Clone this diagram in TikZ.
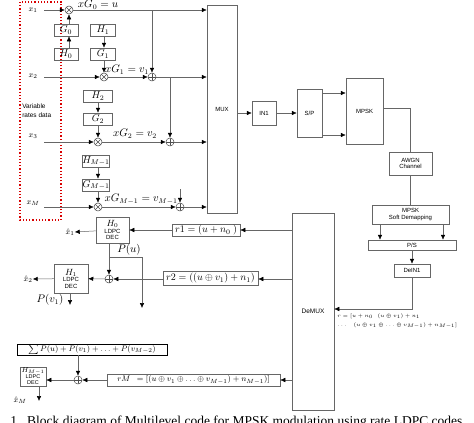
\documentclass[tikz,border=0pt]{standalone}
\usepackage{fontspec}
\setsansfont{Liberation Sans}
\setmainfont{Liberation Serif}
\usetikzlibrary{arrows.meta}
\begin{document}
\begin{tikzpicture}[x=1pt,y=-1pt,
  line width=0.5pt,
  ln/.style={draw=black!60},
  ar/.style={draw=black!60,-{Latex[length=5pt,width=4.5pt,black]}},
  blk/.style={draw=black!60,inner sep=0pt,align=center,font=\sffamily\fontsize{6}{6.5}\selectfont},
  mbox/.style={draw=black!60,inner sep=0pt,font=\fontsize{10}{11}\selectfont},
  lbl/.style={inner sep=0pt,font=\fontsize{10.5}{11}\selectfont},
  slbl/.style={inner sep=0pt,font=\fontsize{8}{9}\selectfont},
  mul/.style={circle,draw=black!70,inner sep=0pt,minimum size=8pt,
    path picture={\draw[black!70] (path picture bounding box.north west)--(path picture bounding box.south east)
      (path picture bounding box.north east)--(path picture bounding box.south west);}},
  add/.style={circle,draw=black!70,inner sep=0pt,minimum size=8pt,
    path picture={\draw[black!70] (path picture bounding box.north)--(path picture bounding box.south)
      (path picture bounding box.east)--(path picture bounding box.west);}}
]
\clip (0,0) rectangle (474,423);
\useasboundingbox (0,0) rectangle (474,423);

% red dotted region
\draw[red!85!black,line width=1.2pt,dotted] (20,2) rectangle (61,220);
\node[inner sep=0pt,align=left,anchor=west,font=\sffamily\fontsize{6.5}{9}\selectfont] (vrd) at (22,111) {Variable\\rates data};

% ---------------- transmitter ----------------
\node[minimum width=30,minimum height=208,draw=black!60,inner sep=0pt,font=\sffamily\fontsize{6}{7}\selectfont] (MUX) at (222,109) {MUX};

% branch 0
\node[slbl] (x1) at (33,10) {$x_1$};
\coordinate (x1s) at (44,10);
\node[mul] (m0) at (69,10) {};
\node[mbox,minimum width=24,minimum height=12] (G0) at (66,30) {$G_0$};
\node[mbox,minimum width=24,minimum height=12] (H0) at (66,54) {$H_0$};
\draw[ar] (x1s) -- (m0);
\draw[ar] (H0.north -| m0) -- (G0.south -| m0);
\draw[ar] (G0.north -| m0) -- (m0);
\node[lbl] (l0) at (98,5) {$xG_0=u$};
\draw[ar] (m0) -- (m0 -| MUX.west);

% branch 1
\node[slbl] (x2) at (33,76) {$x_2$};
\coordinate (x2s) at (44,77);
\node[mul] (m1) at (104,77) {};
\node[add] (a1) at (152,77) {};
\node[mbox,minimum width=25,minimum height=12] (H1) at (103,30) {$H_1$};
\node[mbox,minimum width=25,minimum height=12] (G1) at (103,54) {$G_1$};
\draw[ar] (H1.south -| m1) -- (G1.north -| m1);
\draw[ar] (G1.south -| m1) -- (m1);
\draw[ar] (x2s) -- (m1);
\draw[ar] (m1) -- (a1);
\draw[ar] (a1 |- m0) -- (a1);
\draw[ar] (a1) -- (a1 -| MUX.west);
\node[lbl] (l1) at (127,70) {$xG_1=v_1$};

% branch 2
\node[slbl] (x3) at (33,136) {$x_3$};
\coordinate (x3s) at (44,142);
\node[mul] (m2) at (98,142) {};
\node[add] (a2) at (170,142) {};
\node[mbox,minimum width=29,minimum height=12] (H2) at (98,96) {$H_2$};
\node[mbox,minimum width=29,minimum height=12] (G2) at (98,119) {$G_2$};
\draw[ar] (H2) -- (G2);
\draw[ar] (G2) -- (m2);
\draw[ar] (x3s) -- (m2);
\draw[ar] (m2) -- (a2);
\draw[ar] (a2 |- a1) -- (a2);
\draw[ar] (a2) -- (a2 -| MUX.west);
\node[lbl] (l2) at (135,134) {$xG_2=v_2$};

% branch M-1
\node[slbl] (xM) at (33,203) {$x_M$};
\coordinate (xMs) at (44,207);
\node[mul] (mM) at (98,207) {};
\node[add] (aM) at (180,207) {};
\coordinate (aMin) at (180,189);
\node[mbox,minimum width=24,minimum height=12] (HM) at (96,161) {$H_{M-1}$};
\node[mbox,minimum width=24,minimum height=12] (GM) at (96,185) {$G_{M-1}$};
\draw[ar] (HM.south -| mM) -- (GM.north -| mM);
\draw[ar] (GM.south -| mM) -- (mM);
\draw[ar] (xMs) -- (mM);
\draw[ar] (mM) -- (aM);
\draw[ar] (aMin) -- (aM);
\draw[ar] (aM) -- (aM -| MUX.west);
\node[lbl] (lM) at (141,199) {$xG_{M-1}=v_{M-1}$};

% chain
\node[blk,minimum width=24,minimum height=24] (IN1) at (264,113) {IN1};
\node[blk,minimum width=25,minimum height=48] (SP) at (309.5,113) {S/P};
\node[blk,minimum width=37,minimum height=66] (MPSK) at (364.5,111) {MPSK};
\draw[ar] (MUX.east |- IN1) -- (IN1);
\draw[ar] (IN1) -- (SP);
\draw[ar] ([yshift=20pt]SP.east) -- ([yshift=20pt]SP.east -| MPSK.west);
\draw[ar] ([yshift=-22pt]SP.east) -- ([yshift=-22pt]SP.east -| MPSK.west);
\node[blk,minimum width=43,minimum height=23] (AWGN) at (410.5,163.5) {AWGN\\Channel};
\draw[ln] ([yshift=3pt]MPSK.east) -| (AWGN.north);
\node[blk,minimum width=77,minimum height=19] (SD) at (410.5,214.5) {MPSK\\Soft Demapping};
\draw[ln] (AWGN.south) -- (AWGN.south |- SD.north);
\node[blk,minimum width=88,minimum height=10] (PS) at (412,245) {P/S};
\draw[ar] ([xshift=-30.5pt]SD.south) -- ([xshift=-30.5pt]SD.south |- PS.north);
\draw[ar] ([xshift=32.5pt]SD.south) -- ([xshift=32.5pt]SD.south |- PS.north);
\node[blk,minimum width=36,minimum height=13] (DIN) at (412,270.5) {DeIN1};
\draw[ar] (PS.south -| DIN) -- (DIN);

% ---------------- receiver ----------------
\node[minimum width=42,minimum height=197,draw=black!60,inner sep=0pt,font=\sffamily\fontsize{6.5}{7}\selectfont] (DeMUX) at (313,311.5) {DeMUX};
\coordinate (dk) at (412,309);
\draw[ar] (DIN.south) -- (dk) -- (dk -| DeMUX.east);
\node[inner sep=0pt,anchor=north west,align=left,font=\fontsize{4.6}{9}\selectfont] (rlab) at (337,313)
  {$r=[u+n_0\quad (u\oplus v_1)+n_1$\\$\ldots\quad\ (u\oplus v_1\oplus\ldots\oplus v_{M-1})+n_{M-1}]$};

% r1 row
\node[mbox,minimum width=68,minimum height=12] (r1) at (206,230) {$r1=(u+n_0\ )$};
\node[blk,minimum width=33,minimum height=26,font=\sffamily\fontsize{6}{6.5}\selectfont] (D0) at (112.5,230) {\fontsize{9}{9}\selectfont$H_0$\\LDPC\\DEC};
\node[slbl] (hx1) at (70,232) {$\hat{x}_1$};
\draw[ar] (DeMUX.west |- r1) -- (r1);
\draw[ar] (r1) -- (D0);
\draw[ar] (D0) -- (hx1.east);

% r2 row
\node[add] (a3) at (109,279) {};
\node[mbox,minimum width=95,minimum height=14] (r2) at (210.5,278) {$r2=((u\oplus v_1)+n_1)$};
\node[blk,minimum width=34,minimum height=29] (D1) at (71,278.5) {\fontsize{9}{9}\selectfont$H_1$\\LDPC\\DEC};
\node[slbl] (hx2) at (28,279) {$\hat{x}_2$};
\coordinate (pu1) at (109,257);
\coordinate (pu2) at (142,257);
\coordinate (pu3) at (142,308);
\draw[ar] (a3 |- D0.south) -- (a3);
\draw[ar] (pu1) -- (pu2) -- (pu3);
\node[lbl] (Pu) at (129,250) {$P(u)$};
\draw[ar] (DeMUX.west |- a3) -- (r2.east |- a3);
\draw[ar] (r2.west |- a3) -- (a3);
\draw[ar] (a3) -- (D1);
\draw[ar] (D1) -- (hx2.east);
\coordinate (pv) at (70,305);
\draw[ar] (D1.south -| pv) -- (pv);
\node[lbl] (Pv1) at (50,300) {$P(v_1)$};

% rM row
\node[draw=black,line width=0.9pt,inner sep=0pt,minimum width=150,minimum height=11,font=\fontsize{8.5}{9}\selectfont] (sum) at (92,349.5) {$\sum P(u)+P(v_1)+\ldots+P(v_{M-2})$};
\node[add] (aM2) at (78,380) {};
\node[blk,minimum width=26,minimum height=19,font=\sffamily\fontsize{5.5}{6}\selectfont] (DM) at (33,376.5) {\fontsize{7}{7}\selectfont$H_{M-1}$\\LDPC\\DEC};
\node[mbox,minimum width=173,minimum height=12,font=\fontsize{8.5}{9}\selectfont] (rM) at (193.5,380) {$rM\ \ =[(u\oplus v_1\oplus\ldots\oplus v_{M-1})+n_{M-1})]$};
\draw[ar] (sum.south -| aM2) -- (aM2);
\draw[ar] (DeMUX.west |- rM) -- (rM);
\draw[ar] (rM) -- (aM2);
\draw[ar] (aM2) -- (DM.east |- aM2);
\coordinate (xmd) at (39,401);
\draw[ar] (DM.south -| xmd) -- (xmd);
\node[slbl] (hxM) at (20,400) {$\hat{x}_M$};

% caption (cut off at the bottom)
\node[anchor=base west,inner sep=0pt,font=\fontsize{13.5}{14}\selectfont] (cap) at (10,425) {1.\ \ Block diagram of Multilevel code for MPSK modulation using rate LDPC codes};
\end{tikzpicture}
\end{document}
